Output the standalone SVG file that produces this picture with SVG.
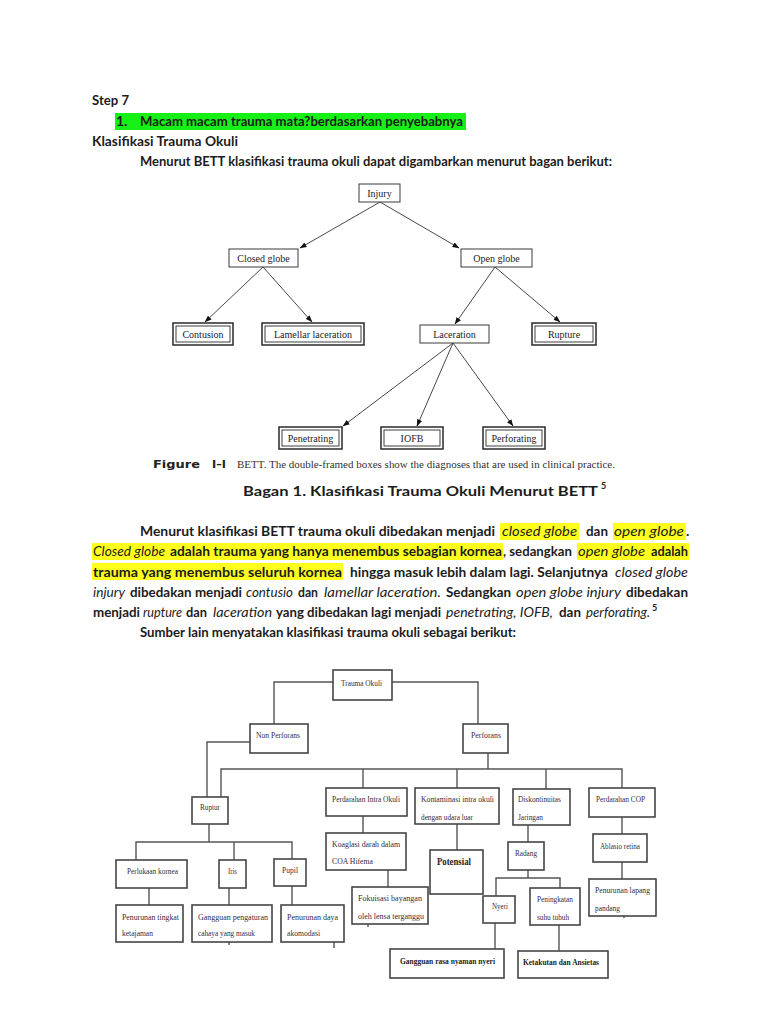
<svg xmlns="http://www.w3.org/2000/svg" width="768" height="1024" viewBox="0 0 768 1024">
<style>
.t{font-family:Lato,"Open Sans","Liberation Sans",sans-serif;font-size:14px;font-weight:700;fill:#1c1c1c}
.i{font-style:italic;font-weight:400}
.hy{fill:#ffff1e}
.hg{fill:#17f017}
.bx{fill:#fff;stroke:#3a3a3a;stroke-width:1}
.dbo{fill:#fff;stroke:#2a2a2a;stroke-width:1.5}
.dbi{fill:none;stroke:#2a2a2a;stroke-width:0.9}
.bt{font-family:"Liberation Serif","DejaVu Serif",serif;font-size:10px;fill:#222;text-anchor:middle}
.arr{stroke:#333;stroke-width:0.9;fill:none;marker-end:url(#ah)}
.cap{font-family:"Liberation Serif",serif;font-size:10px;fill:#333}
.b2{fill:#fff;stroke:#454545;stroke-width:1.6}
.c2{stroke:#555;stroke-width:1.4;fill:none}
.s{font-family:"Liberation Serif","Times New Roman",serif;font-size:8.5px;fill:#332c40}
.sb{font-family:"Liberation Serif","Times New Roman",serif;font-size:9px;font-weight:700;fill:#222}
</style>
<defs>
<marker id="ah" viewBox="0 0 8 6" refX="7.5" refY="3" markerWidth="7" markerHeight="5.5" markerUnits="userSpaceOnUse" orient="auto">
<path d="M0,0 L8,3 L0,6 z" fill="#111"/>
</marker>
</defs>
<rect width="768" height="1024" fill="#fff"/>

<!-- Header -->
<text class="t" x="92" y="105" textLength="37" lengthAdjust="spacingAndGlyphs">Step 7</text>
<rect class="hg" x="115" y="113" width="351" height="17"/>
<text class="t" x="116" y="126">1.</text>
<text class="t" x="140" y="126" textLength="323" lengthAdjust="spacingAndGlyphs">Macam macam trauma mata?berdasarkan penyebabnya</text>
<text class="t" x="92" y="146" textLength="146" lengthAdjust="spacingAndGlyphs">Klasifikasi Trauma Okuli</text>
<text class="t" x="140" y="166" textLength="472" lengthAdjust="spacingAndGlyphs">Menurut BETT klasifikasi trauma okuli dapat digambarkan menurut bagan berikut:</text>

<!-- BETT connectors -->
<g id="bett-connectors">
<line class="arr" x1="380" y1="202" x2="300" y2="248"/>
<line class="arr" x1="380" y1="202" x2="459" y2="248"/>
<line class="arr" x1="263" y1="267" x2="205" y2="322"/>
<line class="arr" x1="263" y1="267" x2="312" y2="322"/>
<line class="arr" x1="495" y1="267" x2="455" y2="324"/>
<line class="arr" x1="495" y1="267" x2="560" y2="322"/>
<line class="arr" x1="453" y1="343" x2="343" y2="426"/>
<line class="arr" x1="453" y1="343" x2="417" y2="426"/>
<line class="arr" x1="453" y1="343" x2="513" y2="426"/>
</g>

<g id="injury"><rect class="bx" x="359" y="184" width="41" height="18"/><text class="bt" x="379.5" y="196.5">Injury</text></g>
<g id="closed-globe"><rect class="bx" x="229" y="249" width="69" height="18"/><text class="bt" x="263.5" y="261.5">Closed globe</text></g>
<g id="open-globe"><rect class="bx" x="461" y="249" width="71" height="18"/><text class="bt" x="496.5" y="261.5">Open globe</text></g>
<g id="contusion"><rect class="dbo" x="173" y="323" width="60" height="22"/><rect class="dbi" x="176" y="326" width="54" height="16"/><text class="bt" x="203" y="337.5">Contusion</text></g>
<g id="lamellar"><rect class="dbo" x="262" y="323" width="102" height="22"/><rect class="dbi" x="265" y="326" width="96" height="16"/><text class="bt" x="313" y="337.5">Lamellar laceration</text></g>
<g id="laceration"><rect class="bx" x="420" y="325" width="69" height="18"/><text class="bt" x="454.5" y="337.5">Laceration</text></g>
<g id="rupture"><rect class="dbo" x="532" y="323" width="64" height="22"/><rect class="dbi" x="535" y="326" width="58" height="16"/><text class="bt" x="564" y="337.5">Rupture</text></g>
<g id="penetrating"><rect class="dbo" x="279" y="427" width="63" height="22"/><rect class="dbi" x="282" y="430" width="57" height="16"/><text class="bt" x="310.5" y="441.5">Penetrating</text></g>
<g id="iofb"><rect class="dbo" x="381" y="427" width="62" height="22"/><rect class="dbi" x="384" y="430" width="56" height="16"/><text class="bt" x="412" y="441.5">IOFB</text></g>
<g id="perforating"><rect class="dbo" x="483" y="427" width="62" height="22"/><rect class="dbi" x="486" y="430" width="56" height="16"/><text class="bt" x="514" y="441.5">Perforating</text></g>

<!-- Caption -->
<text x="153" y="468" font-family="'DejaVu Sans',sans-serif" font-weight="900" font-size="10" fill="#222" textLength="47" lengthAdjust="spacingAndGlyphs">Figure</text>
<text x="212" y="468" font-family="'DejaVu Sans',sans-serif" font-weight="900" font-size="10" fill="#222" textLength="14" lengthAdjust="spacingAndGlyphs">I–I</text>
<text class="cap" x="237" y="468" textLength="378" lengthAdjust="spacingAndGlyphs">BETT.  The double-framed boxes show the diagnoses that are used in clinical practice.</text>
<text class="t" x="243" y="496" textLength="355" lengthAdjust="spacingAndGlyphs">Bagan 1. Klasifikasi Trauma Okuli Menurut BETT</text>
<text class="t" x="601" y="489" style="font-size:9px">5</text>

<!-- Paragraph -->
<rect class="hy" x="500" y="523" width="79" height="17"/>
<rect class="hy" x="613" y="523" width="73" height="17"/>
<rect class="hy" x="92" y="543" width="411" height="17"/>
<rect class="hy" x="577" y="543" width="112" height="17"/>
<rect class="hy" x="92" y="563" width="251" height="17"/>

<text class="t" x="140" y="536" textLength="355" lengthAdjust="spacingAndGlyphs">Menurut klasifikasi BETT trauma okuli dibedakan menjadi</text>
<text class="t i" x="502" y="536" textLength="75" lengthAdjust="spacingAndGlyphs">closed globe</text>
<text class="t" x="586" y="536" textLength="22" lengthAdjust="spacingAndGlyphs">dan</text>
<text class="t i" x="614" y="536" textLength="70" lengthAdjust="spacingAndGlyphs">open globe</text>
<text class="t" x="686" y="536">.</text>

<text class="t i" x="93" y="556" textLength="72" lengthAdjust="spacingAndGlyphs">Closed globe</text>
<text class="t" x="170" y="556" textLength="332" lengthAdjust="spacingAndGlyphs">adalah trauma yang hanya menembus sebagian kornea</text>
<text class="t" x="503" y="556" textLength="69" lengthAdjust="spacingAndGlyphs">, sedangkan</text>
<text class="t i" x="578" y="556" textLength="67" lengthAdjust="spacingAndGlyphs">open globe</text>
<text class="t" x="651" y="556" textLength="37" lengthAdjust="spacingAndGlyphs">adalah</text>

<text class="t" x="93" y="576.5" textLength="249" lengthAdjust="spacingAndGlyphs">trauma yang menembus seluruh kornea</text>
<text class="t" x="350" y="576.5" textLength="258" lengthAdjust="spacingAndGlyphs">hingga masuk lebih dalam lagi. Selanjutnya</text>
<text class="t i" x="615" y="576.5" textLength="73" lengthAdjust="spacingAndGlyphs">closed globe</text>

<text class="t i" x="93" y="597" textLength="32" lengthAdjust="spacingAndGlyphs">injury</text>
<text class="t" x="130" y="597" textLength="112" lengthAdjust="spacingAndGlyphs">dibedakan menjadi</text>
<text class="t i" x="246" y="597" textLength="47" lengthAdjust="spacingAndGlyphs">contusio</text>
<text class="t" x="298" y="597" textLength="20" lengthAdjust="spacingAndGlyphs">dan</text>
<text class="t i" x="324" y="597" textLength="117" lengthAdjust="spacingAndGlyphs">lamellar laceration.</text>
<text class="t" x="446" y="597" textLength="65" lengthAdjust="spacingAndGlyphs">Sedangkan</text>
<text class="t i" x="516" y="597" textLength="105" lengthAdjust="spacingAndGlyphs">open globe injury</text>
<text class="t" x="626" y="597" textLength="62" lengthAdjust="spacingAndGlyphs">dibedakan</text>

<text class="t" x="93" y="617" textLength="47" lengthAdjust="spacingAndGlyphs">menjadi</text>
<text class="t i" x="143" y="617" textLength="39" lengthAdjust="spacingAndGlyphs">rupture</text>
<text class="t" x="186" y="617" textLength="21" lengthAdjust="spacingAndGlyphs">dan</text>
<text class="t i" x="213" y="617" textLength="59" lengthAdjust="spacingAndGlyphs">laceration</text>
<text class="t" x="276" y="617" textLength="165" lengthAdjust="spacingAndGlyphs">yang dibedakan lagi menjadi</text>
<text class="t i" x="446" y="617" textLength="107" lengthAdjust="spacingAndGlyphs">penetrating, IOFB,</text>
<text class="t" x="559" y="617" textLength="22" lengthAdjust="spacingAndGlyphs">dan</text>
<text class="t i" x="586" y="617" textLength="64" lengthAdjust="spacingAndGlyphs">perforating.</text>
<text class="t" x="652" y="611" style="font-size:9px">5</text>

<text class="t" x="140" y="637" textLength="376" lengthAdjust="spacingAndGlyphs">Sumber lain menyatakan klasifikasi trauma okuli sebagai berikut:</text>

<!-- Second diagram connectors -->
<g id="connectors">
<path class="c2" d="M333,682 H274 V724"/>
<path class="c2" d="M392,682 H478 V724"/>
<path class="c2" d="M250,742 H207 V797"/>
<path class="c2" d="M488,753 V769"/>
<path class="c2" d="M221,797 V769 H622 V788"/>
<path class="c2" d="M363,769 V788"/>
<path class="c2" d="M457,769 V788"/>
<path class="c2" d="M546,769 V789"/>
<path class="c2" d="M209,824 V842"/>
<path class="c2" d="M136,860 V842 H292 V859"/>
<path class="c2" d="M234,842 V860"/>
<path class="c2" d="M149,888 V905"/>
<path class="c2" d="M229,888 V905"/>
<path class="c2" d="M292,886 V905"/>
<path class="c2" d="M363,816 V833"/>
<path class="c2" d="M388,870 V887"/>
<path class="c2" d="M457,824 V850"/>
<path class="c2" d="M528,825 V842"/>
<path class="c2" d="M528,870 V878"/>
<path class="c2" d="M496,896 V878 H560 V888"/>
<path class="c2" d="M495,923 V949"/>
<path class="c2" d="M559,925 V951"/>
<path class="c2" d="M622,817 V834"/>
<path class="c2" d="M622,862 V879"/>
<path class="c2" d="M334,942 V948"/>
<path class="c2" d="M229,942 V945"/>
<path class="c2" d="M368,924 V927"/>
<path class="c2" d="M624,916 V918"/>
</g>

<g id="trauma-okuli"><rect class="b2" x="333" y="670" width="59" height="30"/><text class="s" x="341" y="686" textLength="41" lengthAdjust="spacingAndGlyphs">Trauma Okuli</text></g>
<g id="non-perforans"><rect class="b2" x="250" y="724" width="58" height="29"/><text class="s" x="256" y="738" textLength="44" lengthAdjust="spacingAndGlyphs">Non Perforans</text></g>
<g id="perforans"><rect class="b2" x="463" y="724" width="45" height="29"/><text class="s" x="471" y="738" textLength="30" lengthAdjust="spacingAndGlyphs">Perforans</text></g>
<g id="ruptur"><rect class="b2" x="192" y="797" width="36" height="27"/><text class="s" x="200" y="810" textLength="20" lengthAdjust="spacingAndGlyphs">Ruptur</text></g>
<g id="perdarahan-intra-okuli"><rect class="b2" x="326" y="788" width="81" height="28"/><text class="s" x="332" y="802" textLength="68" lengthAdjust="spacingAndGlyphs">Perdarahan Intra Okuli</text></g>
<g id="kontaminasi"><rect class="b2" x="415" y="788" width="84" height="36"/><text class="s" x="421" y="802" textLength="73" lengthAdjust="spacingAndGlyphs">Kontaminasi  intra okuli</text><text class="s" x="421" y="819.5" textLength="52" lengthAdjust="spacingAndGlyphs">dengan udara luar</text></g>
<g id="diskontinuitas"><rect class="b2" x="513" y="789" width="57" height="36"/><text class="s" x="518" y="802" textLength="43" lengthAdjust="spacingAndGlyphs">Diskontinuitas</text><text class="s" x="518" y="819.5" textLength="25" lengthAdjust="spacingAndGlyphs">Jaringan</text></g>
<g id="perdarahan-cop"><rect class="b2" x="589" y="788" width="66" height="29"/><text class="s" x="596" y="802" textLength="49" lengthAdjust="spacingAndGlyphs">Perdarahan COP</text></g>
<g id="koaglasi"><rect class="b2" x="326" y="833" width="80" height="37"/><text class="s" x="332" y="847" textLength="68" lengthAdjust="spacingAndGlyphs">Koaglasi  darah  dalam</text><text class="s" x="332" y="864" textLength="41" lengthAdjust="spacingAndGlyphs">COA Hifema</text></g>
<g id="potensial"><rect class="b2" x="430" y="850" width="53" height="44"/><text class="sb" x="437" y="865" style="font-size:11px" textLength="34" lengthAdjust="spacingAndGlyphs">Potensial</text></g>
<g id="radang"><rect class="b2" x="508" y="842" width="36" height="28"/><text class="s" x="515" y="856" textLength="22" lengthAdjust="spacingAndGlyphs">Radang</text></g>
<g id="ablasio"><rect class="b2" x="593" y="834" width="54" height="28"/><text class="s" x="600" y="849" textLength="40" lengthAdjust="spacingAndGlyphs">Ablasio retina</text></g>
<g id="penurunan-lapang"><rect class="b2" x="589" y="879" width="67" height="37"/><text class="s" x="595" y="893" textLength="55" lengthAdjust="spacingAndGlyphs">Penurunan  lapang</text><text class="s" x="595" y="911" textLength="25" lengthAdjust="spacingAndGlyphs">pandang</text></g>
<g id="fokuisasi"><rect class="b2" x="352" y="887" width="76" height="37"/><text class="s" x="358" y="901" textLength="64" lengthAdjust="spacingAndGlyphs">Fokuisasi  bayangan</text><text class="s" x="358" y="918.5" textLength="66" lengthAdjust="spacingAndGlyphs">oleh lensa terganggu</text></g>
<g id="nyeri"><rect class="b2" x="483" y="896" width="32" height="27"/><text class="s" x="492" y="909" textLength="16" lengthAdjust="spacingAndGlyphs">Nyeri</text></g>
<g id="peningkatan"><rect class="b2" x="530" y="888" width="50" height="37"/><text class="s" x="537" y="902" textLength="36" lengthAdjust="spacingAndGlyphs">Peningkatan</text><text class="s" x="537" y="919.5" textLength="32" lengthAdjust="spacingAndGlyphs">suhu tubuh</text></g>
<g id="gangguan-rasa"><rect class="b2" x="390" y="949" width="114" height="29"/><text class="sb" x="400" y="964" textLength="95" lengthAdjust="spacingAndGlyphs">Gangguan rasa nyaman nyeri</text></g>
<g id="ketakutan"><rect class="b2" x="518" y="951" width="90" height="27"/><text class="sb" x="523" y="965" textLength="76" lengthAdjust="spacingAndGlyphs">Ketakutan dan Ansietas</text></g>
<g id="perlukaan-kornea"><rect class="b2" x="116" y="860" width="71" height="28"/><text class="s" x="127" y="874" textLength="51" lengthAdjust="spacingAndGlyphs">Perlukaan kornea</text></g>
<g id="iris"><rect class="b2" x="219" y="860" width="27" height="28"/><text class="s" x="228" y="874" textLength="9" lengthAdjust="spacingAndGlyphs">Iris</text></g>
<g id="pupil"><rect class="b2" x="274" y="859" width="32" height="27"/><text class="s" x="282" y="873" textLength="16" lengthAdjust="spacingAndGlyphs">Pupil</text></g>
<g id="penurunan-tingkat"><rect class="b2" x="116" y="905" width="67" height="37"/><text class="s" x="122" y="919.5" textLength="57" lengthAdjust="spacingAndGlyphs">Penurunan  tingkat</text><text class="s" x="122" y="936" textLength="31" lengthAdjust="spacingAndGlyphs">ketajaman</text></g>
<g id="gangguan-pengaturan"><rect class="b2" x="192" y="905" width="80" height="37"/><text class="s" x="198" y="919.5" textLength="70" lengthAdjust="spacingAndGlyphs">Gangguan   pengaturan</text><text class="s" x="198" y="936" textLength="57" lengthAdjust="spacingAndGlyphs">cahaya yang masuk</text></g>
<g id="penurunan-daya"><rect class="b2" x="281" y="905" width="63" height="37"/><text class="s" x="287" y="919.5" textLength="51" lengthAdjust="spacingAndGlyphs">Penurunan   daya</text><text class="s" x="287" y="936" textLength="33" lengthAdjust="spacingAndGlyphs">akomodasi</text></g>
</svg>
